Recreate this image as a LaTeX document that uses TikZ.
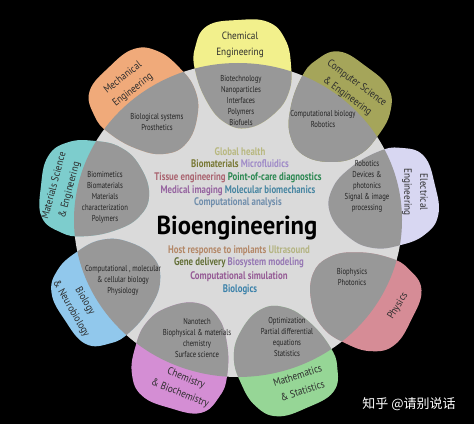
\documentclass[tikz,border=0pt]{standalone}
\usepackage{fontspec}
\setmainfont{PT Sans}
\newfontfamily\bodyf[FakeStretch=0.78]{PT Sans}
\newfontfamily\titlef[FakeStretch=0.88]{PT Sans}
\newfontfamily\kwf[FakeStretch=0.8]{PT Sans}
\newfontfamily\bigf[FakeStretch=0.95]{PT Sans}
\newfontfamily\cjk{Noto Sans CJK SC}

\definecolor{bgring}{RGB}{218,218,218}
\definecolor{petalgray}{RGB}{152,152,152}
\definecolor{chemc}{RGB}{242,240,140}
\definecolor{csc}{RGB}{165,165,90}
\definecolor{eec}{RGB}{216,215,242}
\definecolor{phc}{RGB}{214,140,150}
\definecolor{mac}{RGB}{150,214,150}
\definecolor{chc}{RGB}{212,142,212}
\definecolor{bic}{RGB}{145,200,236}
\definecolor{mtc}{RGB}{125,205,205}
\definecolor{mec}{RGB}{240,170,122}
\definecolor{bodytext}{RGB}{34,34,34}
\definecolor{titletext}{RGB}{45,45,45}
\definecolor{kglobal}{RGB}{184,184,128}
\definecolor{kbioma}{RGB}{120,120,52}
\definecolor{kmicro}{RGB}{160,140,200}
\definecolor{ktissue}{RGB}{170,100,112}
\definecolor{kpoc}{RGB}{44,136,82}
\definecolor{kmed}{RGB}{150,100,160}
\definecolor{kmol}{RGB}{72,134,162}
\definecolor{kcomp}{RGB}{112,142,172}
\definecolor{khost}{RGB}{180,136,104}
\definecolor{kultra}{RGB}{180,180,130}
\definecolor{kgene}{RGB}{100,112,56}
\definecolor{kbiosys}{RGB}{150,120,180}
\definecolor{ksim}{RGB}{150,92,150}
\definecolor{kbiol}{RGB}{60,130,170}

\newcommand\petalshape[2]{%
  \fill[#2,shift={(238,204)},rotate=#1]
    plot[smooth cycle,tension=0.72] coordinates {(-31,194) (0,200) (30,198) (47,181) (53,155) (51,128) (36,106) (10,92) (-14,98) (-32,120) (-43,150) (-43,172)};}

\tikzset{
  bodytxt/.style={align=center,inner sep=0pt,text=bodytext,font=\bodyf\fontsize{8.6}{11}\selectfont},
  titletxt/.style={align=center,inner sep=0pt,text=titletext,font=\titlef\fontsize{10.5}{16}\selectfont},
  kwtxt/.style={inner sep=0pt,font=\kwf\bfseries\fontsize{11}{12}\selectfont},
}

\begin{document}
\begin{tikzpicture}[x=1pt,y=1pt]
\useasboundingbox (0,0) rectangle (474,424);
\fill[black] (0,0) rectangle (474,424);
\fill[bgring] (238,204) ellipse [x radius=164, y radius=157];

\petalshape{0}{chemc}
\petalshape{-40}{csc}
\petalshape{-80}{eec}
\petalshape{-120}{phc}
\petalshape{-160}{mac}
\petalshape{-200}{chc}
\petalshape{-240}{bic}
\petalshape{80}{mtc}
\petalshape{40}{mec}

\begin{scope}
\clip (238,204) ellipse [x radius=164, y radius=157];
\petalshape{0}{petalgray}
\petalshape{-40}{petalgray}
\petalshape{-80}{petalgray}
\petalshape{-120}{petalgray}
\petalshape{-160}{petalgray}
\petalshape{-200}{petalgray}
\petalshape{-240}{petalgray}
\petalshape{80}{petalgray}
\petalshape{40}{petalgray}
\end{scope}

% titles
\node[titletxt] (tchem) at (240,379) {Chemical\\Engineering};
\node[titletxt,rotate=38] (tmech) at (128,340) {Mechanical\\Engineering};
\node[titletxt,rotate=-36] (tcs) at (352,334) {Computer Science\\\& Engineering};
\node[titletxt,rotate=-90] (tee) at (415,232) {Electrical\\Engineering};
\node[titletxt,rotate=58] (tph) at (398,118) {Physics};
\node[titletxt,rotate=18] (tma) at (300,41) {Mathematics\\\& Statistics};
\node[titletxt,rotate=-22] (tch) at (183,38) {Chemistry\\\& Biochemistry};
\node[titletxt,rotate=-60] (tbi) at (78,119) {Biology\\\& Neurobiology};
\node[titletxt,rotate=75] (tmt) at (62,236) {Materials Science\\\& Engineering};

% petal contents
\node[bodytxt] (bchem) at (241,323.5) {Biotechnology\\Nanoparticles\\Interfaces\\Polymers\\Biofuels};
\node[bodytxt] (bmech) at (157,302) {Biological systems\\Prosthetics};
\node[bodytxt] (bcs) at (323,305.5) {Computational biology\\Robotics};
\node[bodytxt] (bee) at (367,238) {Robotics\\Devices \&\\photonics\\Signal \& image\\processing};
\node[bodytxt] (bmt) at (105,227) {Biomimetics\\Biomaterials\\Materials\\characterization\\Polymers};
\node[bodytxt] (bbi) at (123,143.5) {Computational , molecular\\\& cellular biology\\Physiology};
\node[bodytxt] (bch) at (197,86) {Nanotech\\Biophysical \& materials\\chemistry\\Surface science};
\node[bodytxt] (bma) at (287,87) {Optimization\\Partial differential\\equations\\Statistics};
\node[bodytxt] (bph) at (352,147) {Biophysics\\Photonics};

% keywords
\node[kwtxt] (k1) at (240,272.5) {\textcolor{kglobal}{Global health}};
\node[kwtxt] (k2) at (240,260) {\textcolor{kbioma}{Biomaterials}\ \textcolor{kmicro}{Microfluidics}};
\node[kwtxt] (k3) at (238,246) {\textcolor{ktissue}{Tissue engineering}\ \textcolor{kpoc}{Point-of-care diagnostics}};
\node[kwtxt] (k4) at (238,233.5) {\textcolor{kmed}{Medical imaging}\ \textcolor{kmol}{Molecular biomechanics}};
\node[kwtxt] (k5) at (238,221) {\textcolor{kcomp}{Computational analysis}};
\node[inner sep=0pt,text=black,font=\bigf\bfseries\fontsize{26}{30}\selectfont] (title) at (237,196) {Bioengineering};
\node[kwtxt] (k6) at (239,173) {\textcolor{khost}{Host response to implants}\ \textcolor{kultra}{Ultrasound}};
\node[kwtxt] (k7) at (239,161) {\textcolor{kgene}{Gene delivery}\ \textcolor{kbiosys}{Biosystem modeling}};
\node[kwtxt] (k8) at (239,147) {\textcolor{ksim}{Computational simulation}};
\node[kwtxt] (k9) at (240,134) {\textcolor{kbiol}{Biologics}};

\node[inner sep=0pt,text=white,font=\cjk\fontsize{13}{15}\selectfont] (wm) at (409,20) {知乎 @请别说话};
\end{tikzpicture}
\end{document}
